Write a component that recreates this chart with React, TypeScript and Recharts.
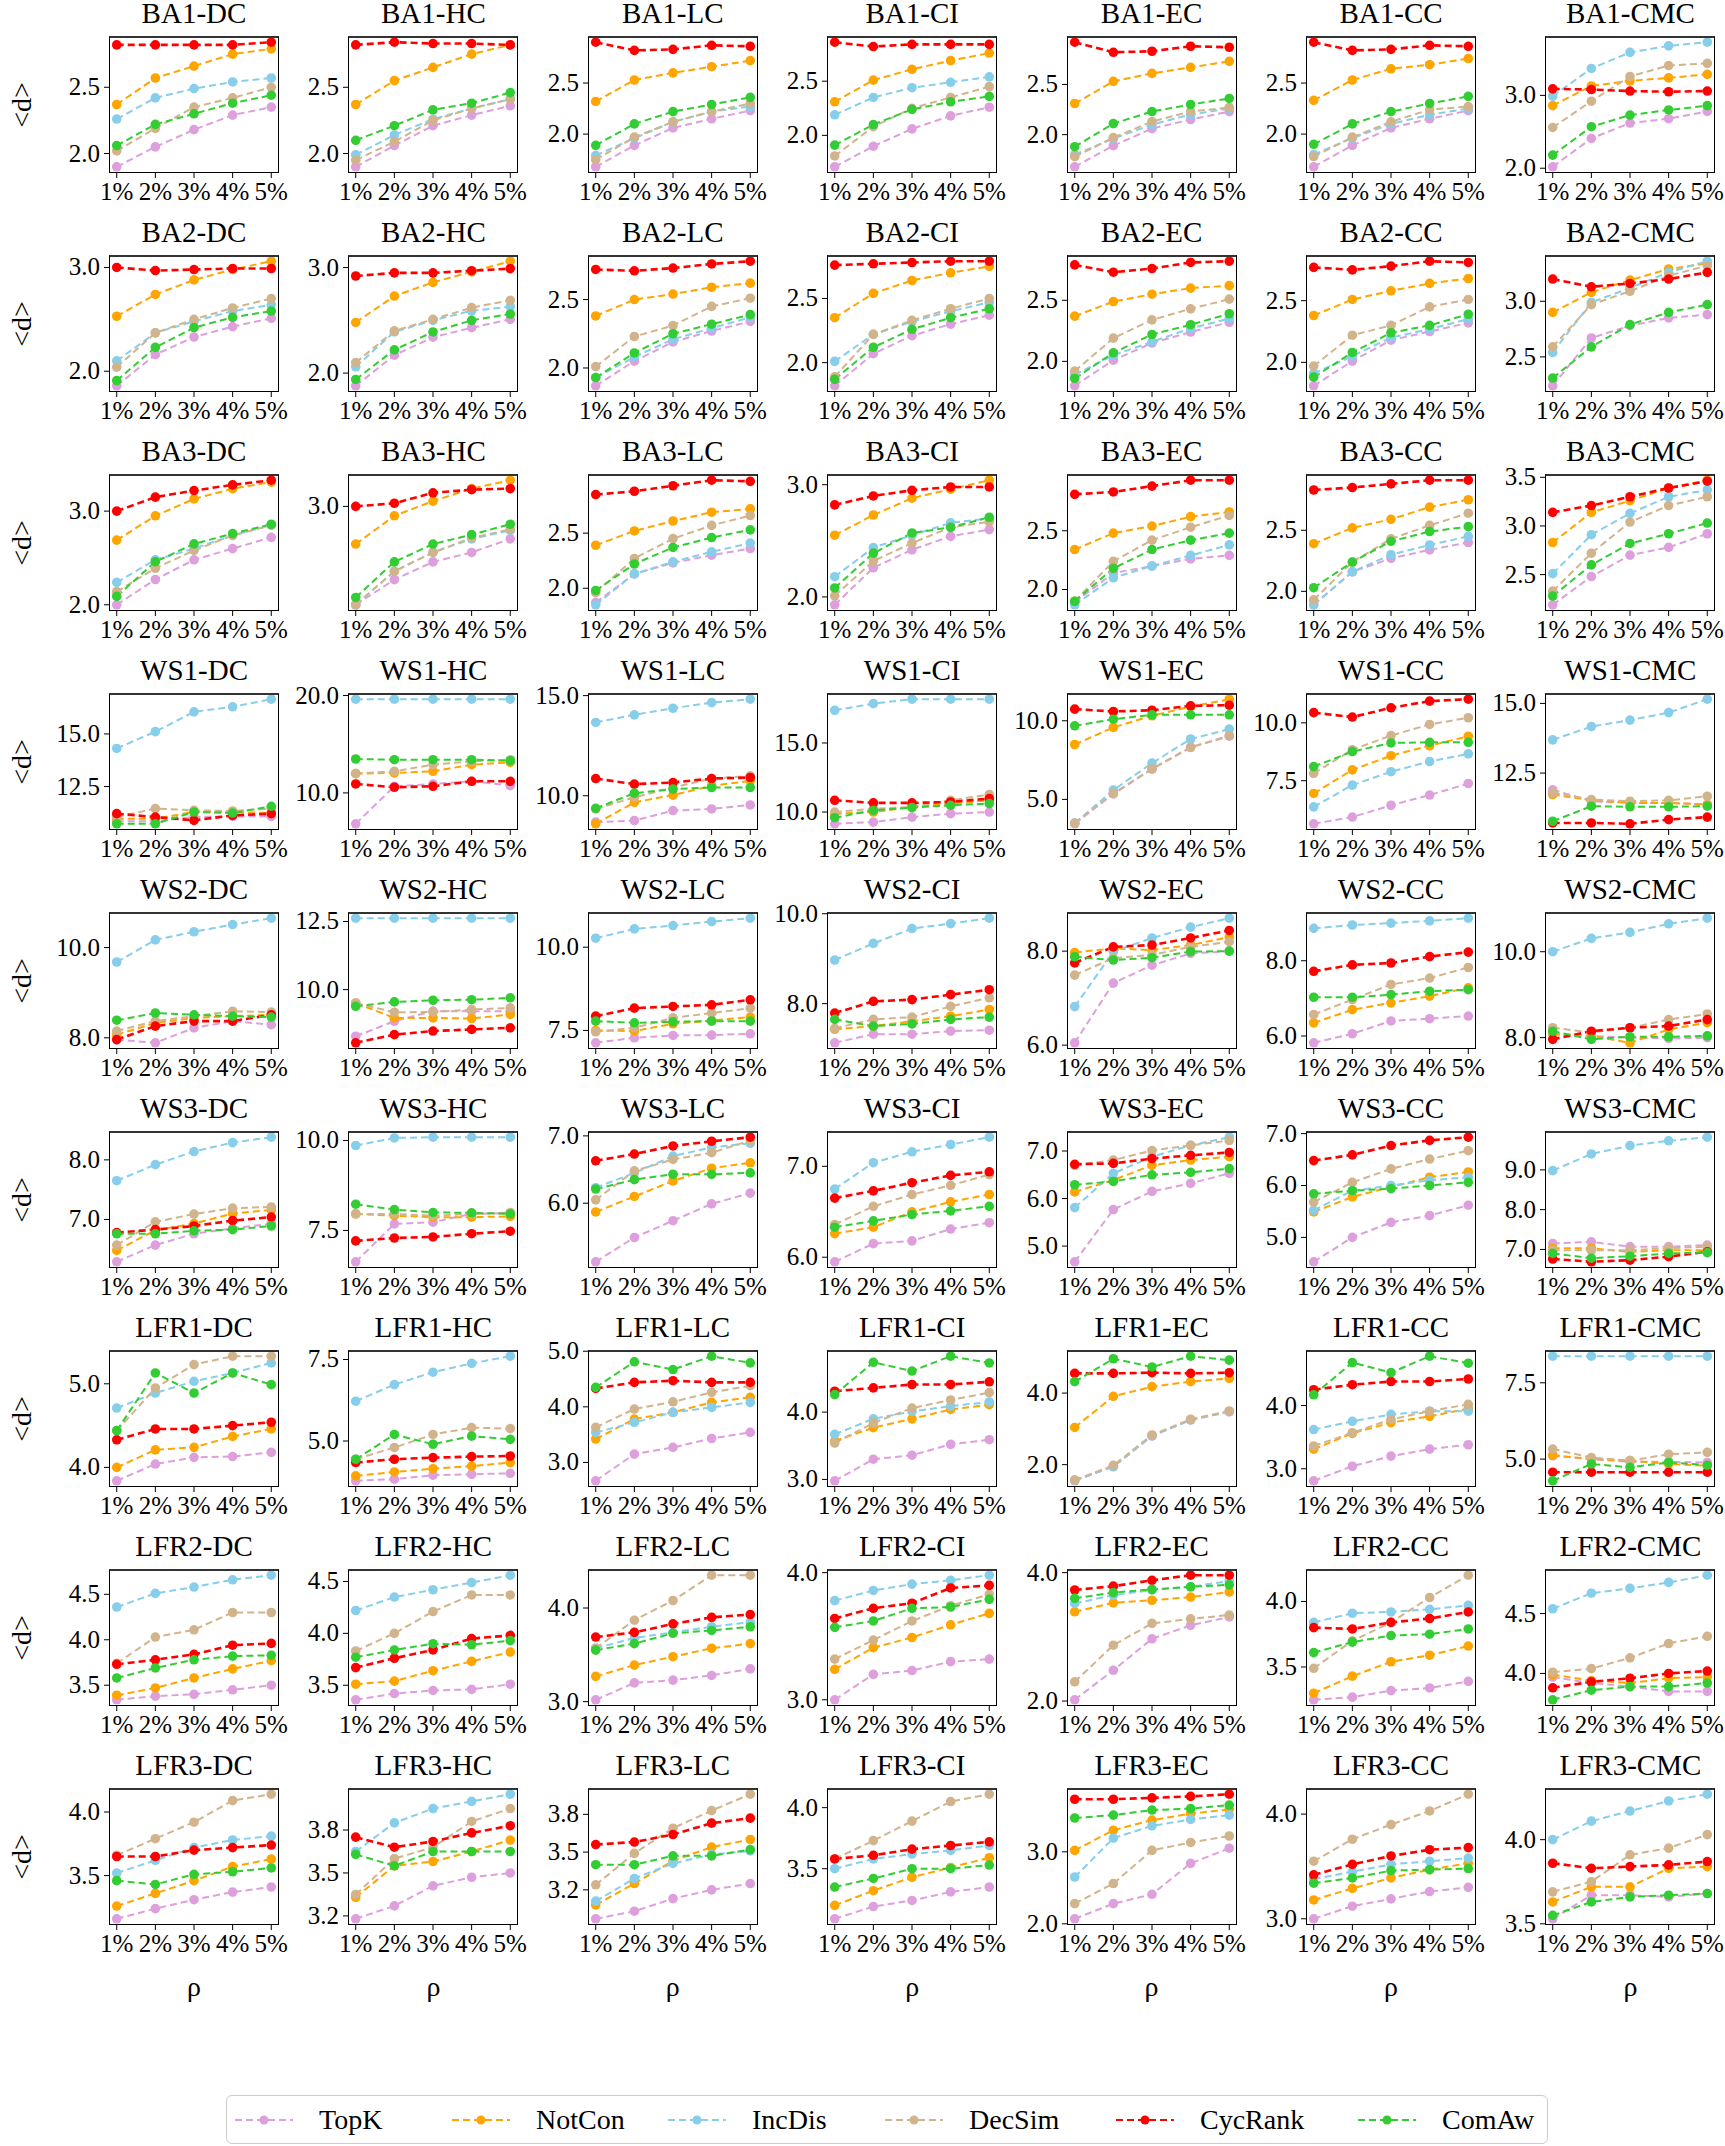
import React from "react";
import { LineChart, Line, XAxis, YAxis } from "recharts";

const METHODS = ["TopK", "NotCon", "IncDis", "DecSim", "CycRank", "ComAw"];
const COLORS = ["#DDA0DD", "#FFA500", "#87CEEB", "#D2B48C", "#FF0000", "#32CD32"];
const NETWORKS = ["BA1", "BA2", "BA3", "WS1", "WS2", "WS3", "LFR1", "LFR2", "LFR3"];
const MEASURES = ["DC", "HC", "LC", "CI", "EC", "CC", "CMC"];
const X_LABELS = ["1%", "2%", "3%", "4%", "5%"];

// each panel: [TopK, NotCon, IncDis, DecSim, CycRank, ComAw]
const BA1 = [
    [[1.90, 2.05, 2.18, 2.29, 2.35], [2.37, 2.57, 2.66, 2.75, 2.79], [2.26, 2.42, 2.49, 2.54, 2.57], [2.02, 2.19, 2.35, 2.42, 2.50], [2.82, 2.82, 2.82, 2.82, 2.84], [2.06, 2.22, 2.30, 2.38, 2.44]],
    [[1.90, 2.06, 2.21, 2.29, 2.36], [2.37, 2.55, 2.65, 2.75, 2.82], [1.99, 2.14, 2.26, 2.34, 2.41], [1.95, 2.09, 2.25, 2.34, 2.41], [2.82, 2.84, 2.83, 2.83, 2.82], [2.10, 2.21, 2.33, 2.38, 2.46]],
    [[1.68, 1.89, 2.06, 2.15, 2.23], [2.32, 2.53, 2.60, 2.66, 2.72], [1.79, 1.96, 2.12, 2.22, 2.27], [1.75, 1.97, 2.12, 2.22, 2.30], [2.90, 2.82, 2.83, 2.87, 2.86], [1.89, 2.10, 2.22, 2.29, 2.36]],
    [[1.71, 1.90, 2.06, 2.18, 2.26], [2.31, 2.51, 2.61, 2.69, 2.76], [2.19, 2.35, 2.44, 2.49, 2.54], [1.81, 2.08, 2.25, 2.35, 2.45], [2.86, 2.82, 2.84, 2.84, 2.84], [1.91, 2.10, 2.24, 2.31, 2.36]],
    [[1.68, 1.89, 2.06, 2.15, 2.23], [2.31, 2.53, 2.61, 2.67, 2.73], [1.80, 1.96, 2.10, 2.20, 2.26], [1.78, 1.97, 2.13, 2.23, 2.27], [2.92, 2.82, 2.83, 2.88, 2.87], [1.88, 2.11, 2.23, 2.30, 2.36]],
    [[1.68, 1.89, 2.06, 2.15, 2.23], [2.33, 2.53, 2.64, 2.68, 2.74], [1.80, 1.96, 2.10, 2.19, 2.25], [1.78, 1.97, 2.12, 2.24, 2.27], [2.90, 2.82, 2.83, 2.87, 2.86], [1.90, 2.10, 2.22, 2.30, 2.37]],
    [[2.02, 2.41, 2.62, 2.68, 2.78], [2.86, 3.13, 3.20, 3.24, 3.29], [2.99, 3.37, 3.59, 3.68, 3.73], [2.56, 2.92, 3.26, 3.41, 3.44], [3.09, 3.08, 3.06, 3.05, 3.06], [2.18, 2.57, 2.73, 2.80, 2.86]],
];
const BA2 = [
    [[1.86, 2.16, 2.33, 2.43, 2.51], [2.53, 2.74, 2.88, 2.98, 3.06], [2.10, 2.37, 2.48, 2.58, 2.64], [2.04, 2.37, 2.50, 2.61, 2.70], [3.00, 2.97, 2.98, 2.99, 2.99], [1.91, 2.23, 2.42, 2.52, 2.58]],
    [[1.88, 2.17, 2.34, 2.43, 2.51], [2.48, 2.73, 2.86, 2.96, 3.06], [2.06, 2.39, 2.50, 2.59, 2.63], [2.10, 2.40, 2.51, 2.62, 2.69], [2.92, 2.95, 2.95, 2.97, 2.99], [1.94, 2.22, 2.39, 2.50, 2.56]],
    [[1.87, 2.05, 2.19, 2.27, 2.34], [2.38, 2.50, 2.54, 2.59, 2.62], [1.93, 2.08, 2.21, 2.29, 2.37], [2.01, 2.23, 2.31, 2.45, 2.51], [2.72, 2.71, 2.73, 2.76, 2.78], [1.93, 2.11, 2.25, 2.32, 2.39]],
    [[1.82, 2.07, 2.21, 2.30, 2.37], [2.35, 2.54, 2.64, 2.70, 2.75], [2.01, 2.22, 2.32, 2.40, 2.47], [1.89, 2.22, 2.33, 2.42, 2.50], [2.76, 2.77, 2.78, 2.79, 2.79], [1.87, 2.12, 2.26, 2.35, 2.42]],
    [[1.80, 2.01, 2.15, 2.24, 2.32], [2.37, 2.49, 2.55, 2.60, 2.62], [1.89, 2.05, 2.16, 2.27, 2.35], [1.92, 2.19, 2.34, 2.43, 2.51], [2.79, 2.73, 2.76, 2.81, 2.82], [1.86, 2.07, 2.22, 2.30, 2.39]],
    [[1.81, 2.01, 2.18, 2.25, 2.32], [2.38, 2.51, 2.58, 2.64, 2.68], [1.91, 2.05, 2.20, 2.27, 2.35], [1.97, 2.22, 2.30, 2.45, 2.51], [2.77, 2.75, 2.78, 2.82, 2.81], [1.88, 2.08, 2.24, 2.30, 2.39]],
    [[2.24, 2.67, 2.78, 2.85, 2.88], [2.90, 3.08, 3.19, 3.29, 3.34], [2.54, 2.99, 3.12, 3.26, 3.36], [2.59, 2.97, 3.09, 3.23, 3.32], [3.20, 3.13, 3.16, 3.20, 3.26], [2.31, 2.59, 2.79, 2.90, 2.97]],
];
const BA3 = [
    [[2.00, 2.27, 2.48, 2.60, 2.72], [2.69, 2.95, 3.13, 3.24, 3.31], [2.24, 2.48, 2.60, 2.74, 2.85], [2.14, 2.39, 2.58, 2.74, 2.85], [3.00, 3.15, 3.22, 3.28, 3.33], [2.09, 2.46, 2.65, 2.76, 2.86]],
    [[2.06, 2.30, 2.47, 2.56, 2.69], [2.64, 2.91, 3.05, 3.17, 3.25], [2.06, 2.38, 2.56, 2.69, 2.77], [2.06, 2.38, 2.56, 2.70, 2.78], [3.00, 3.03, 3.13, 3.16, 3.17], [2.13, 2.47, 2.64, 2.73, 2.83]],
    [[1.87, 2.13, 2.23, 2.30, 2.36], [2.39, 2.52, 2.61, 2.69, 2.72], [1.85, 2.13, 2.24, 2.33, 2.41], [1.96, 2.27, 2.45, 2.57, 2.66], [2.85, 2.88, 2.93, 2.98, 2.97], [1.98, 2.22, 2.37, 2.46, 2.53]],
    [[1.93, 2.26, 2.42, 2.54, 2.60], [2.55, 2.73, 2.88, 2.96, 3.04], [2.18, 2.44, 2.55, 2.66, 2.70], [2.01, 2.32, 2.48, 2.62, 2.67], [2.82, 2.90, 2.95, 2.98, 2.98], [2.08, 2.39, 2.57, 2.62, 2.71]],
    [[1.89, 2.14, 2.20, 2.26, 2.29], [2.34, 2.48, 2.54, 2.62, 2.66], [1.87, 2.10, 2.20, 2.29, 2.38], [1.90, 2.24, 2.42, 2.53, 2.63], [2.81, 2.83, 2.88, 2.93, 2.93], [1.90, 2.18, 2.34, 2.42, 2.48]],
    [[1.89, 2.16, 2.27, 2.34, 2.40], [2.39, 2.52, 2.59, 2.69, 2.75], [1.89, 2.16, 2.30, 2.38, 2.45], [1.93, 2.24, 2.43, 2.54, 2.64], [2.83, 2.85, 2.88, 2.91, 2.91], [2.03, 2.24, 2.41, 2.49, 2.53]],
    [[2.19, 2.48, 2.70, 2.78, 2.92], [2.83, 3.14, 3.26, 3.39, 3.47], [2.51, 2.91, 3.13, 3.30, 3.37], [2.33, 2.72, 3.04, 3.21, 3.30], [3.14, 3.21, 3.30, 3.39, 3.46], [2.28, 2.60, 2.82, 2.92, 3.03]],
];
const WS1 = [
    [[10.85, 10.85, 11.05, 11.08, 11.08], [10.97, 10.97, 11.29, 11.29, 11.24], [14.31, 15.11, 16.05, 16.29, 16.65], [11.05, 11.45, 11.37, 11.34, 11.45], [11.21, 11.05, 10.89, 11.13, 11.21], [10.73, 10.73, 11.29, 11.24, 11.56]],
    [[6.83, 10.68, 10.92, 11.19, 10.75], [11.98, 12.05, 12.22, 12.90, 13.14], [19.62, 19.62, 19.62, 19.62, 19.62], [11.98, 12.22, 12.90, 13.24, 13.41], [10.92, 10.58, 10.68, 11.19, 11.19], [13.48, 13.41, 13.41, 13.41, 13.31]],
    [[8.68, 8.76, 9.26, 9.34, 9.54], [8.60, 9.67, 10.03, 10.50, 10.74], [13.66, 14.04, 14.37, 14.65, 14.82], [9.34, 9.92, 10.41, 10.86, 10.99], [10.86, 10.58, 10.66, 10.86, 10.91], [9.37, 10.13, 10.33, 10.41, 10.41]],
    [[9.15, 9.27, 9.63, 9.88, 10.00], [9.88, 10.00, 10.37, 10.61, 10.85], [17.37, 17.85, 18.17, 18.17, 18.17], [10.00, 10.24, 10.37, 10.85, 11.27], [10.85, 10.66, 10.66, 10.73, 10.98], [9.59, 10.12, 10.32, 10.49, 10.61]],
    [[3.45, 5.35, 6.92, 8.30, 9.02], [8.49, 9.58, 10.32, 10.90, 11.37], [3.49, 5.59, 7.31, 8.84, 9.47], [3.49, 5.38, 6.95, 8.32, 9.05], [10.74, 10.59, 10.67, 10.95, 10.99], [9.68, 10.10, 10.38, 10.38, 10.38]],
    [[5.64, 5.93, 6.44, 6.88, 7.38], [6.95, 7.97, 8.58, 9.01, 9.42], [6.37, 7.31, 7.89, 8.33, 8.66], [7.82, 8.84, 9.45, 9.93, 10.22], [10.44, 10.25, 10.65, 10.94, 11.02], [8.11, 8.76, 9.13, 9.16, 9.16]],
    [[11.90, 11.49, 11.43, 11.43, 11.37], [11.73, 11.52, 11.43, 11.43, 11.37], [13.69, 14.17, 14.40, 14.67, 15.15], [11.79, 11.55, 11.49, 11.52, 11.67], [10.71, 10.71, 10.68, 10.83, 10.92], [10.77, 11.31, 11.29, 11.29, 11.31]],
];
const WS2 = [
    [[7.96, 7.89, 8.22, 8.37, 8.29], [8.07, 8.33, 8.44, 8.48, 8.51], [9.68, 10.17, 10.35, 10.51, 10.65], [8.15, 8.37, 8.48, 8.59, 8.57], [7.96, 8.26, 8.37, 8.37, 8.51], [8.39, 8.55, 8.51, 8.48, 8.46]],
    [[8.29, 8.84, 9.21, 9.21, 9.21], [9.51, 8.96, 8.96, 8.94, 9.09], [12.62, 12.62, 12.62, 12.62, 12.62], [9.51, 9.17, 9.18, 9.27, 9.33], [8.05, 8.35, 8.48, 8.54, 8.60], [9.39, 9.55, 9.61, 9.63, 9.70]],
    [[7.13, 7.28, 7.35, 7.36, 7.40], [7.50, 7.48, 7.70, 7.80, 7.90], [10.27, 10.55, 10.65, 10.77, 10.87], [7.46, 7.58, 7.88, 8.02, 8.17], [7.93, 8.17, 8.22, 8.27, 8.42], [7.78, 7.73, 7.76, 7.78, 7.78]],
    [[7.13, 7.32, 7.32, 7.39, 7.41], [7.43, 7.50, 7.61, 7.72, 7.87], [8.97, 9.34, 9.67, 9.78, 9.90], [7.45, 7.65, 7.70, 7.94, 8.13], [7.79, 8.05, 8.09, 8.20, 8.31], [7.65, 7.50, 7.55, 7.65, 7.70]],
    [[6.05, 7.32, 7.70, 7.95, 8.00], [7.97, 8.06, 8.02, 8.13, 8.30], [6.82, 7.99, 8.28, 8.51, 8.70], [7.49, 7.85, 7.92, 8.09, 8.20], [7.75, 8.09, 8.13, 8.28, 8.44], [7.88, 7.81, 7.86, 7.99, 8.00]],
    [[5.82, 6.06, 6.40, 6.46, 6.53], [6.35, 6.70, 6.88, 7.06, 7.28], [8.86, 8.95, 9.00, 9.06, 9.13], [6.57, 6.97, 7.37, 7.54, 7.82], [7.72, 7.89, 7.94, 8.11, 8.23], [7.03, 7.03, 7.10, 7.19, 7.23]],
    [[8.08, 8.04, 8.00, 7.98, 8.00], [8.09, 8.04, 7.88, 8.19, 8.35], [10.00, 10.31, 10.45, 10.65, 10.78], [8.23, 8.12, 8.23, 8.42, 8.55], [7.96, 8.15, 8.23, 8.27, 8.42], [8.15, 7.96, 8.02, 8.02, 8.04]],
];
const WS3 = [
    [[6.29, 6.57, 6.76, 6.85, 6.93], [6.48, 6.82, 6.93, 7.10, 7.16], [7.65, 7.92, 8.14, 8.29, 8.38], [6.57, 6.96, 7.09, 7.19, 7.21], [6.78, 6.83, 6.89, 6.98, 7.04], [6.76, 6.76, 6.81, 6.83, 6.89]],
    [[6.63, 7.68, 7.73, 7.96, 7.98], [7.96, 7.91, 7.87, 7.87, 7.89], [9.86, 10.07, 10.09, 10.09, 10.09], [7.96, 7.96, 7.91, 7.96, 8.00], [7.21, 7.29, 7.32, 7.41, 7.48], [8.23, 8.08, 8.00, 7.99, 7.96]],
    [[5.13, 5.49, 5.74, 5.99, 6.15], [5.87, 6.10, 6.33, 6.52, 6.60], [6.23, 6.45, 6.70, 6.83, 6.89], [6.05, 6.48, 6.65, 6.75, 6.93], [6.63, 6.73, 6.85, 6.92, 6.98], [6.21, 6.35, 6.43, 6.43, 6.45]],
    [[5.95, 6.15, 6.18, 6.31, 6.38], [6.26, 6.33, 6.50, 6.61, 6.69], [6.75, 7.04, 7.16, 7.24, 7.32], [6.36, 6.56, 6.69, 6.79, 6.91], [6.65, 6.73, 6.82, 6.90, 6.94], [6.33, 6.40, 6.47, 6.51, 6.56]],
    [[4.67, 5.77, 6.15, 6.32, 6.53], [6.14, 6.39, 6.70, 6.81, 6.88], [5.81, 6.53, 6.88, 7.12, 7.29], [6.70, 6.81, 7.01, 7.12, 7.22], [6.72, 6.74, 6.84, 6.91, 6.97], [6.29, 6.36, 6.50, 6.55, 6.63]],
    [[4.53, 5.00, 5.29, 5.42, 5.62], [5.49, 5.78, 5.97, 6.16, 6.26], [5.52, 5.90, 6.00, 6.10, 6.16], [5.68, 6.06, 6.32, 6.51, 6.67], [6.48, 6.59, 6.77, 6.87, 6.93], [5.84, 5.90, 5.94, 6.00, 6.06]],
    [[7.15, 7.19, 7.07, 7.07, 7.11], [7.03, 7.03, 6.94, 6.98, 6.98], [8.98, 9.40, 9.61, 9.73, 9.82], [6.98, 6.98, 6.98, 7.03, 7.07], [6.76, 6.69, 6.73, 6.82, 6.94], [6.90, 6.78, 6.83, 6.90, 6.92]],
];
const LFR1 = [
    [[3.84, 4.04, 4.12, 4.13, 4.18], [4.00, 4.21, 4.24, 4.37, 4.46], [4.71, 4.89, 5.03, 5.13, 5.25], [4.44, 4.95, 5.23, 5.33, 5.33], [4.33, 4.46, 4.46, 4.50, 4.54], [4.44, 5.13, 4.89, 5.13, 4.99]],
    [[3.78, 3.83, 3.95, 3.98, 4.01], [3.93, 4.05, 4.15, 4.23, 4.34], [6.22, 6.73, 7.11, 7.38, 7.60], [4.44, 4.80, 5.20, 5.41, 5.38], [4.34, 4.44, 4.49, 4.52, 4.54], [4.44, 5.20, 4.90, 5.15, 5.05]],
    [[2.67, 3.15, 3.27, 3.43, 3.54], [3.42, 3.78, 3.90, 4.08, 4.17], [3.54, 3.72, 3.90, 3.99, 4.08], [3.63, 3.96, 4.09, 4.26, 4.38], [4.33, 4.44, 4.47, 4.44, 4.44], [4.35, 4.81, 4.67, 4.91, 4.79]],
    [[2.98, 3.30, 3.36, 3.52, 3.59], [3.57, 3.77, 3.90, 4.04, 4.11], [3.67, 3.90, 4.01, 4.09, 4.15], [3.54, 3.84, 4.06, 4.18, 4.29], [4.31, 4.36, 4.41, 4.41, 4.45], [4.26, 4.74, 4.61, 4.83, 4.73]],
    [[1.55, 1.95, 2.80, 3.25, 3.48], [3.04, 3.91, 4.18, 4.32, 4.41], [1.57, 1.94, 2.81, 3.25, 3.48], [1.57, 1.98, 2.83, 3.27, 3.50], [4.55, 4.55, 4.57, 4.55, 4.57], [4.32, 4.96, 4.73, 5.03, 4.92]],
    [[2.81, 3.04, 3.20, 3.31, 3.38], [3.31, 3.56, 3.73, 3.83, 3.95], [3.62, 3.75, 3.86, 3.91, 3.91], [3.36, 3.57, 3.78, 3.91, 4.02], [4.25, 4.33, 4.38, 4.38, 4.42], [4.17, 4.68, 4.52, 4.78, 4.67]],
    [[5.11, 5.00, 4.91, 4.91, 4.89], [5.13, 5.00, 4.95, 4.84, 4.78], [8.37, 8.37, 8.37, 8.37, 8.37], [5.33, 5.05, 4.95, 5.16, 5.22], [4.57, 4.57, 4.57, 4.57, 4.57], [4.29, 4.84, 4.73, 4.89, 4.80]],
];
const LFR2 = [
    [[3.34, 3.38, 3.40, 3.45, 3.50], [3.39, 3.47, 3.58, 3.68, 3.77], [4.36, 4.51, 4.58, 4.66, 4.71], [3.74, 4.03, 4.11, 4.30, 4.30], [3.73, 3.78, 3.84, 3.94, 3.96], [3.58, 3.69, 3.78, 3.82, 3.83]],
    [[3.36, 3.42, 3.45, 3.46, 3.51], [3.51, 3.54, 3.64, 3.73, 3.82], [4.22, 4.35, 4.42, 4.49, 4.56], [3.83, 4.00, 4.21, 4.37, 4.37], [3.67, 3.76, 3.84, 3.95, 3.98], [3.77, 3.84, 3.90, 3.89, 3.93]],
    [[3.02, 3.20, 3.23, 3.28, 3.35], [3.27, 3.39, 3.48, 3.57, 3.62], [3.57, 3.68, 3.74, 3.80, 3.85], [3.57, 3.87, 4.08, 4.35, 4.35], [3.69, 3.74, 3.83, 3.90, 3.93], [3.55, 3.62, 3.73, 3.76, 3.80]],
    [[3.00, 3.20, 3.23, 3.30, 3.32], [3.24, 3.41, 3.49, 3.59, 3.68], [3.78, 3.86, 3.91, 3.94, 3.98], [3.32, 3.47, 3.62, 3.74, 3.83], [3.64, 3.72, 3.76, 3.88, 3.90], [3.57, 3.62, 3.72, 3.73, 3.79]],
    [[2.02, 2.48, 2.97, 3.18, 3.31], [3.39, 3.53, 3.57, 3.62, 3.70], [3.52, 3.65, 3.73, 3.78, 3.87], [2.30, 2.87, 3.21, 3.28, 3.34], [3.73, 3.79, 3.88, 3.96, 3.96], [3.60, 3.69, 3.74, 3.78, 3.81]],
    [[3.25, 3.27, 3.32, 3.34, 3.39], [3.30, 3.43, 3.54, 3.59, 3.66], [3.84, 3.91, 3.92, 3.94, 3.97], [3.49, 3.70, 3.84, 4.03, 4.20], [3.80, 3.79, 3.84, 3.87, 3.92], [3.61, 3.69, 3.74, 3.75, 3.79]],
    [[3.97, 3.92, 3.89, 3.85, 3.85], [3.99, 3.94, 3.92, 3.96, 3.97], [4.54, 4.67, 4.71, 4.76, 4.82], [4.01, 4.04, 4.13, 4.25, 4.31], [3.88, 3.93, 3.96, 4.00, 4.02], [3.78, 3.86, 3.89, 3.89, 3.92]],
];
const LFR3 = [
    [[3.16, 3.24, 3.31, 3.37, 3.41], [3.26, 3.36, 3.46, 3.57, 3.63], [3.52, 3.62, 3.72, 3.78, 3.81], [3.66, 3.79, 3.92, 4.09, 4.14], [3.65, 3.65, 3.70, 3.72, 3.74], [3.46, 3.43, 3.51, 3.53, 3.56]],
    [[3.18, 3.27, 3.41, 3.47, 3.50], [3.33, 3.55, 3.58, 3.65, 3.73], [3.65, 3.85, 3.95, 4.00, 4.05], [3.35, 3.60, 3.68, 3.86, 3.95], [3.75, 3.68, 3.72, 3.78, 3.83], [3.63, 3.55, 3.65, 3.65, 3.65]],
    [[2.97, 3.03, 3.13, 3.20, 3.25], [3.08, 3.25, 3.43, 3.54, 3.60], [3.11, 3.29, 3.41, 3.48, 3.51], [3.24, 3.49, 3.69, 3.83, 3.96], [3.56, 3.58, 3.64, 3.73, 3.77], [3.40, 3.40, 3.47, 3.47, 3.52]],
    [[3.09, 3.19, 3.24, 3.31, 3.35], [3.20, 3.32, 3.43, 3.51, 3.59], [3.50, 3.58, 3.62, 3.65, 3.69], [3.58, 3.73, 3.89, 4.05, 4.11], [3.58, 3.61, 3.66, 3.69, 3.72], [3.35, 3.42, 3.50, 3.50, 3.53]],
    [[2.07, 2.28, 2.41, 2.84, 3.05], [3.02, 3.30, 3.44, 3.53, 3.59], [2.65, 3.19, 3.36, 3.45, 3.51], [2.28, 2.56, 3.02, 3.13, 3.22], [3.73, 3.73, 3.75, 3.77, 3.80], [3.47, 3.51, 3.58, 3.60, 3.65]],
    [[3.00, 3.12, 3.19, 3.26, 3.30], [3.18, 3.29, 3.39, 3.47, 3.53], [3.38, 3.45, 3.52, 3.55, 3.58], [3.55, 3.76, 3.90, 4.03, 4.19], [3.42, 3.52, 3.60, 3.66, 3.68], [3.34, 3.39, 3.46, 3.47, 3.48]],
    [[3.53, 3.67, 3.67, 3.66, 3.68], [3.63, 3.72, 3.72, 3.83, 3.84], [4.00, 4.11, 4.17, 4.23, 4.27], [3.69, 3.75, 3.91, 3.95, 4.03], [3.86, 3.83, 3.84, 3.85, 3.87], [3.55, 3.63, 3.66, 3.67, 3.68]],
];

// y tick labels shown on each panel, row by row
const BA1_TICKS = [[2.0, 2.5], [2.0, 2.5], [2.0, 2.5], [2.0, 2.5], [2.0, 2.5], [2.0, 2.5], [2.0, 3.0]];
const BA2_TICKS = [[2.0, 3.0], [2.0, 3.0], [2.0, 2.5], [2.0, 2.5], [2.0, 2.5], [2.0, 2.5], [2.5, 3.0]];
const BA3_TICKS = [[2.0, 3.0], [2.0, 3.0], [2.0, 2.5], [2.0, 3.0], [2.0, 2.5], [2.0, 2.5], [2.5, 3.0, 3.5]];
const WS1_TICKS = [[12.5, 15.0], [10.0, 20.0], [10.0, 15.0], [10.0, 15.0], [5.0, 10.0], [7.5, 10.0], [12.5, 15.0]];
const WS2_TICKS = [[8.0, 10.0], [10.0, 12.5], [7.5, 10.0], [8.0, 10.0], [6.0, 8.0], [6.0, 8.0], [8.0, 10.0]];
const WS3_TICKS = [[7.0, 8.0], [7.5, 10.0], [6.0, 7.0], [6.0, 7.0], [5.0, 6.0, 7.0], [5.0, 6.0, 7.0], [7.0, 8.0, 9.0]];
const LFR1_TICKS = [[4.0, 5.0], [5.0, 7.5], [3.0, 4.0, 5.0], [3.0, 4.0], [2.0, 4.0], [3.0, 4.0], [5.0, 7.5]];
const LFR2_TICKS = [[3.5, 4.0, 4.5], [3.5, 4.0, 4.5], [3.0, 4.0], [3.0, 4.0], [2.0, 4.0], [3.5, 4.0], [4.0, 4.5]];
const LFR3_TICKS = [[3.5, 4.0], [3.2, 3.5, 3.8], [3.2, 3.5, 3.8], [3.5, 4.0], [2.0, 3.0], [3.0, 4.0], [3.5, 4.0]];

const ROWS = [BA1, BA2, BA3, WS1, WS2, WS3, LFR1, LFR2, LFR3];
const ROW_TICKS = [BA1_TICKS, BA2_TICKS, BA3_TICKS, WS1_TICKS, WS2_TICKS, WS3_TICKS, LFR1_TICKS, LFR2_TICKS, LFR3_TICKS];

const FONT = "'Liberation Serif', 'Times New Roman', serif";
const PLOT_W = 170;
const PLOT_H = 137;
const Y_AXIS_W = 70;
const TOP_PAD = 18;
const colLeft = (c: number) => 109 + 239.4 * c;
const rowTop = (r: number) => 36 + 219 * r;

// serif tick labels drawn by hand so the font is sure to apply
const XTick = (props: any) => {
    const { x, y, payload } = props;
    return (
        <text x={x} y={y + 20} textAnchor="middle" fontSize={25} fontFamily={FONT} fill="#000">
            {X_LABELS[payload.value]}
        </text>
    );
};
const YTick = (props: any) => {
    const { x, y, payload } = props;
    return (
        <text x={x - 2} y={y + 8} textAnchor="end" fontSize={25} fontFamily={FONT} fill="#000">
            {Number(payload.value).toFixed(1)}
        </text>
    );
};

const Panel = ({ r, c }: { r: number; c: number }) => {
    const series = ROWS[r][c];
    const all = series.flat();
    const lo = Math.min(...all);
    const hi = Math.max(...all);
    const pad = (hi - lo) * 0.05;
    const domain = [lo - pad, hi + pad];
    const ticks = ROW_TICKS[r][c].filter((t) => t >= domain[0] && t <= domain[1]);
    const data = X_LABELS.map((_, i) => {
        const row: Record<string, number> = { i };
        METHODS.forEach((m, k) => (row[m] = series[k][i]));
        return row;
    });
    const left = colLeft(c);
    const top = rowTop(r);

    return (
        <>
            <div
                style={{
                    position: "absolute",
                    left: left - 40,
                    width: PLOT_W + 80,
                    top: top - 40,
                    textAlign: "center",
                    fontSize: 29,
                    fontFamily: FONT,
                    lineHeight: "34px",
                }}
            >
                {NETWORKS[r]}-{MEASURES[c]}
            </div>
            <div style={{ position: "absolute", left: left - Y_AXIS_W, top: top - TOP_PAD }}>
                <LineChart
                    width={Y_AXIS_W + PLOT_W + 10}
                    height={TOP_PAD + PLOT_H + 45}
                    data={data}
                    margin={{ top: TOP_PAD, right: 10, bottom: 0, left: 0 }}
                >
                    <XAxis
                        dataKey="i"
                        type="number"
                        domain={[-0.2, 4.2]}
                        ticks={[0, 1, 2, 3, 4]}
                        interval={0}
                        allowDataOverflow
                        height={45}
                        tickSize={5}
                        axisLine={false}
                        tickLine={{ stroke: "#000" }}
                        tick={<XTick />}
                    />
                    <YAxis
                        type="number"
                        domain={domain}
                        ticks={ticks}
                        interval={0}
                        allowDataOverflow
                        width={Y_AXIS_W}
                        tickSize={5}
                        axisLine={false}
                        tickLine={{ stroke: "#000" }}
                        tick={<YTick />}
                    />
                    {METHODS.map((m, k) => (
                        <Line
                            key={m}
                            type="linear"
                            dataKey={m}
                            stroke={COLORS[k]}
                            strokeWidth={m === "CycRank" ? 2.6 : 2}
                            strokeDasharray="7 4"
                            dot={{ r: 4.8, fill: COLORS[k], stroke: "none", strokeDasharray: "" }}
                            activeDot={false}
                            isAnimationActive={false}
                        />
                    ))}
                </LineChart>
            </div>
            <div
                style={{
                    position: "absolute",
                    left: left,
                    top: top,
                    width: PLOT_W,
                    height: PLOT_H,
                    boxSizing: "border-box",
                    border: "1.3px solid #000",
                    borderTop: "2.5px solid #333",
                    pointerEvents: "none",
                }}
            />
        </>
    );
};

const App = () => {
    const legendX = [235, 452, 668, 885, 1116, 1358];
    return (
        <div style={{ position: "absolute", left: 0, top: 0, width: 1725, height: 2146, background: "#fff", fontFamily: FONT }}>
            {ROWS.map((_, r) => MEASURES.map((__, c) => <Panel key={`${r}-${c}`} r={r} c={c} />))}
            {NETWORKS.map((n, r) => (
                <div
                    key={n}
                    style={{
                        position: "absolute",
                        left: 22 - 40,
                        top: rowTop(r) + PLOT_H / 2 - 16,
                        width: 80,
                        textAlign: "center",
                        fontSize: 28,
                        lineHeight: "32px",
                        transform: "rotate(-90deg)",
                    }}
                >
                    {"<d>"}
                </div>
            ))}
            {MEASURES.map((m, c) => (
                <div
                    key={m}
                    style={{
                        position: "absolute",
                        left: colLeft(c),
                        width: PLOT_W,
                        top: rowTop(8) + PLOT_H + 46,
                        textAlign: "center",
                        fontSize: 28,
                        lineHeight: "32px",
                    }}
                >
                    ρ
                </div>
            ))}
            <div
                style={{
                    position: "absolute",
                    left: 226,
                    top: 2095,
                    width: 1322,
                    height: 49,
                    boxSizing: "border-box",
                    border: "1.5px solid #ccc",
                    borderRadius: 6,
                }}
            />
            {METHODS.map((m, k) => (
                <div key={m} style={{ position: "absolute", left: legendX[k], top: 2102, height: 36, display: "flex", alignItems: "center" }}>
                    <svg width={58} height={20}>
                        <line x1={0} y1={10} x2={58} y2={10} stroke={COLORS[k]} strokeWidth={2} strokeDasharray="7 4" />
                        <circle cx={29} cy={10} r={4.5} fill={COLORS[k]} />
                    </svg>
                    <span style={{ marginLeft: 26, fontSize: 28 }}>{m}</span>
                </div>
            ))}
        </div>
    );
};

export default App;
